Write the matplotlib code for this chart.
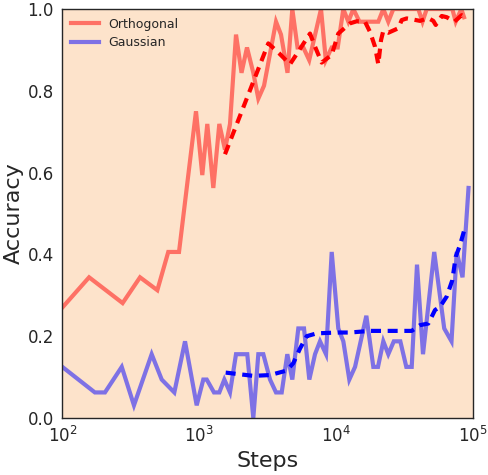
import matplotlib
matplotlib.use("Agg")
import matplotlib.pyplot as plt

# ---- data ----
orth_steps = [100, 157, 276, 370, 495, 595, 713, 949, 1055, 1148, 1270, 1405, 1546, 1682,
              1861, 2042, 2239, 2490, 2709, 2982, 3649, 3969, 4428, 4800, 5241, 5778, 6380,
              7782, 8437, 9318, 10310, 11330, 12320, 13410, 14880, 20410, 22210, 24150,
              26280, 40020, 42950, 46100, 70950, 75100, 82530, 86400]
orth_acc = [0.27, 0.344, 0.281, 0.344, 0.3125, 0.406, 0.406, 0.75, 0.594, 0.719, 0.5625,
            0.719, 0.656, 0.719, 0.9375, 0.844, 0.906, 0.844, 0.781, 0.8125, 0.969, 0.9375,
            0.844, 1.0, 0.906, 0.906, 0.875, 1.0, 0.875, 0.906, 0.906, 1.0, 0.969, 1.0,
            0.969, 0.969, 1.0, 0.969, 1.0, 1.0, 0.969, 1.0, 1.0, 0.969, 1.0, 0.98]

orth_smooth_steps = [1546, 3205, 3838, 4618, 5311, 6467, 7036, 7875, 9318, 10410, 12680,
                     14190, 16320, 17760, 19310, 20410, 21370, 22210, 24150, 28580, 30270,
                     32920, 35820, 41190, 47130, 51520, 53640, 59350, 64550, 73380, 83100,
                     86400]
orth_smooth_acc = [0.645, 0.916, 0.892, 0.865, 0.896, 0.94, 0.908, 0.869, 0.888, 0.94,
                   0.965, 0.97, 0.969, 0.944, 0.908, 0.865, 0.924, 0.947, 0.942, 0.953,
                   0.973, 0.977, 0.975, 0.971, 0.978, 0.971, 0.961, 0.983, 0.98, 0.969,
                   0.985, 0.982]

gauss_steps = [100, 173, 205, 272, 334, 450, 533, 659, 789, 960, 1073, 1137, 1285, 1405,
               1529, 1682, 1861, 2250, 2490, 2709, 2947, 3299, 3649, 4016, 4413, 4800,
               5311, 5846, 6391, 7036, 7651, 8467, 9318, 10410, 11330, 12530, 13800,
               16690, 18770, 20310, 22210, 24150, 26500, 29570, 32700, 35820, 39150,
               43310, 52310, 61900, 69980, 76380, 84230, 93180]
gauss_acc = [0.125, 0.0625, 0.0625, 0.125, 0.031, 0.156, 0.094, 0.0625, 0.1875, 0.031,
             0.094, 0.094, 0.0625, 0.0625, 0.094, 0.0625, 0.156, 0.156, 0.0, 0.156, 0.156,
             0.094, 0.0625, 0.0625, 0.156, 0.094, 0.219, 0.219, 0.094, 0.156, 0.1875,
             0.156, 0.406, 0.219, 0.1875, 0.094, 0.125, 0.25, 0.125, 0.125, 0.1875, 0.156,
             0.1875, 0.1875, 0.125, 0.125, 0.375, 0.156, 0.406, 0.219, 0.1875, 0.406,
             0.344, 0.5625]

gauss_smooth_steps = [1564, 2490, 3299, 4370, 4881, 5468, 6116, 7238, 10200, 12680, 17760,
                      35820, 41190, 47370, 53020, 57680, 64550, 70950, 75100, 80760, 86850,
                      89790]
gauss_smooth_acc = [0.111, 0.103, 0.105, 0.116, 0.134, 0.17, 0.2, 0.207, 0.209, 0.209,
                    0.213, 0.213, 0.227, 0.231, 0.264, 0.272, 0.297, 0.337, 0.394, 0.423,
                    0.46, 0.465]

series_labels = ["Orthogonal", "Gaussian"]
x_label = "Steps"
y_label = "Accuracy"

# ---- plot ----
fig = plt.figure(figsize=(4.89, 4.75), dpi=100)
ax = fig.add_axes([0.1274, 0.12, 0.8393, 0.861])
ax.set_facecolor("#fde3cb")

ax.plot(orth_steps, orth_acc, color="red", alpha=0.5, lw=3, label=series_labels[0],
        solid_joinstyle="miter")
ax.plot(gauss_steps, gauss_acc, color="blue", alpha=0.5, lw=3, label=series_labels[1],
        solid_joinstyle="miter")
ax.plot(orth_smooth_steps, orth_smooth_acc, color="red", lw=3, ls=(0, (2.4, 1.6)))
ax.plot(gauss_smooth_steps, gauss_smooth_acc, color="blue", lw=3, ls=(0, (2.4, 1.6)))

ax.set_xscale("log")
ax.set_xlim(100, 1e5)
ax.set_ylim(0, 1.0)
ax.set_yticks([0.0, 0.2, 0.4, 0.6, 0.8, 1.0])
ax.tick_params(axis="both", length=0, labelsize=12, labelcolor="#262626", pad=6)
ax.tick_params(axis="x", which="minor", length=0)
ax.set_xlabel(x_label, fontsize=16, color="#262626", labelpad=3)
ax.set_ylabel(y_label, fontsize=16, color="#262626", labelpad=3)
for s in ax.spines.values():
    s.set_color("#262626")
    s.set_linewidth(1.0)

leg = ax.legend(loc="upper left", frameon=False, fontsize=9, handlelength=2.2,
                borderaxespad=0.3, labelspacing=0.45)
for t in leg.get_texts():
    t.set_color("#262626")

fig.savefig("out.png", dpi=100)
